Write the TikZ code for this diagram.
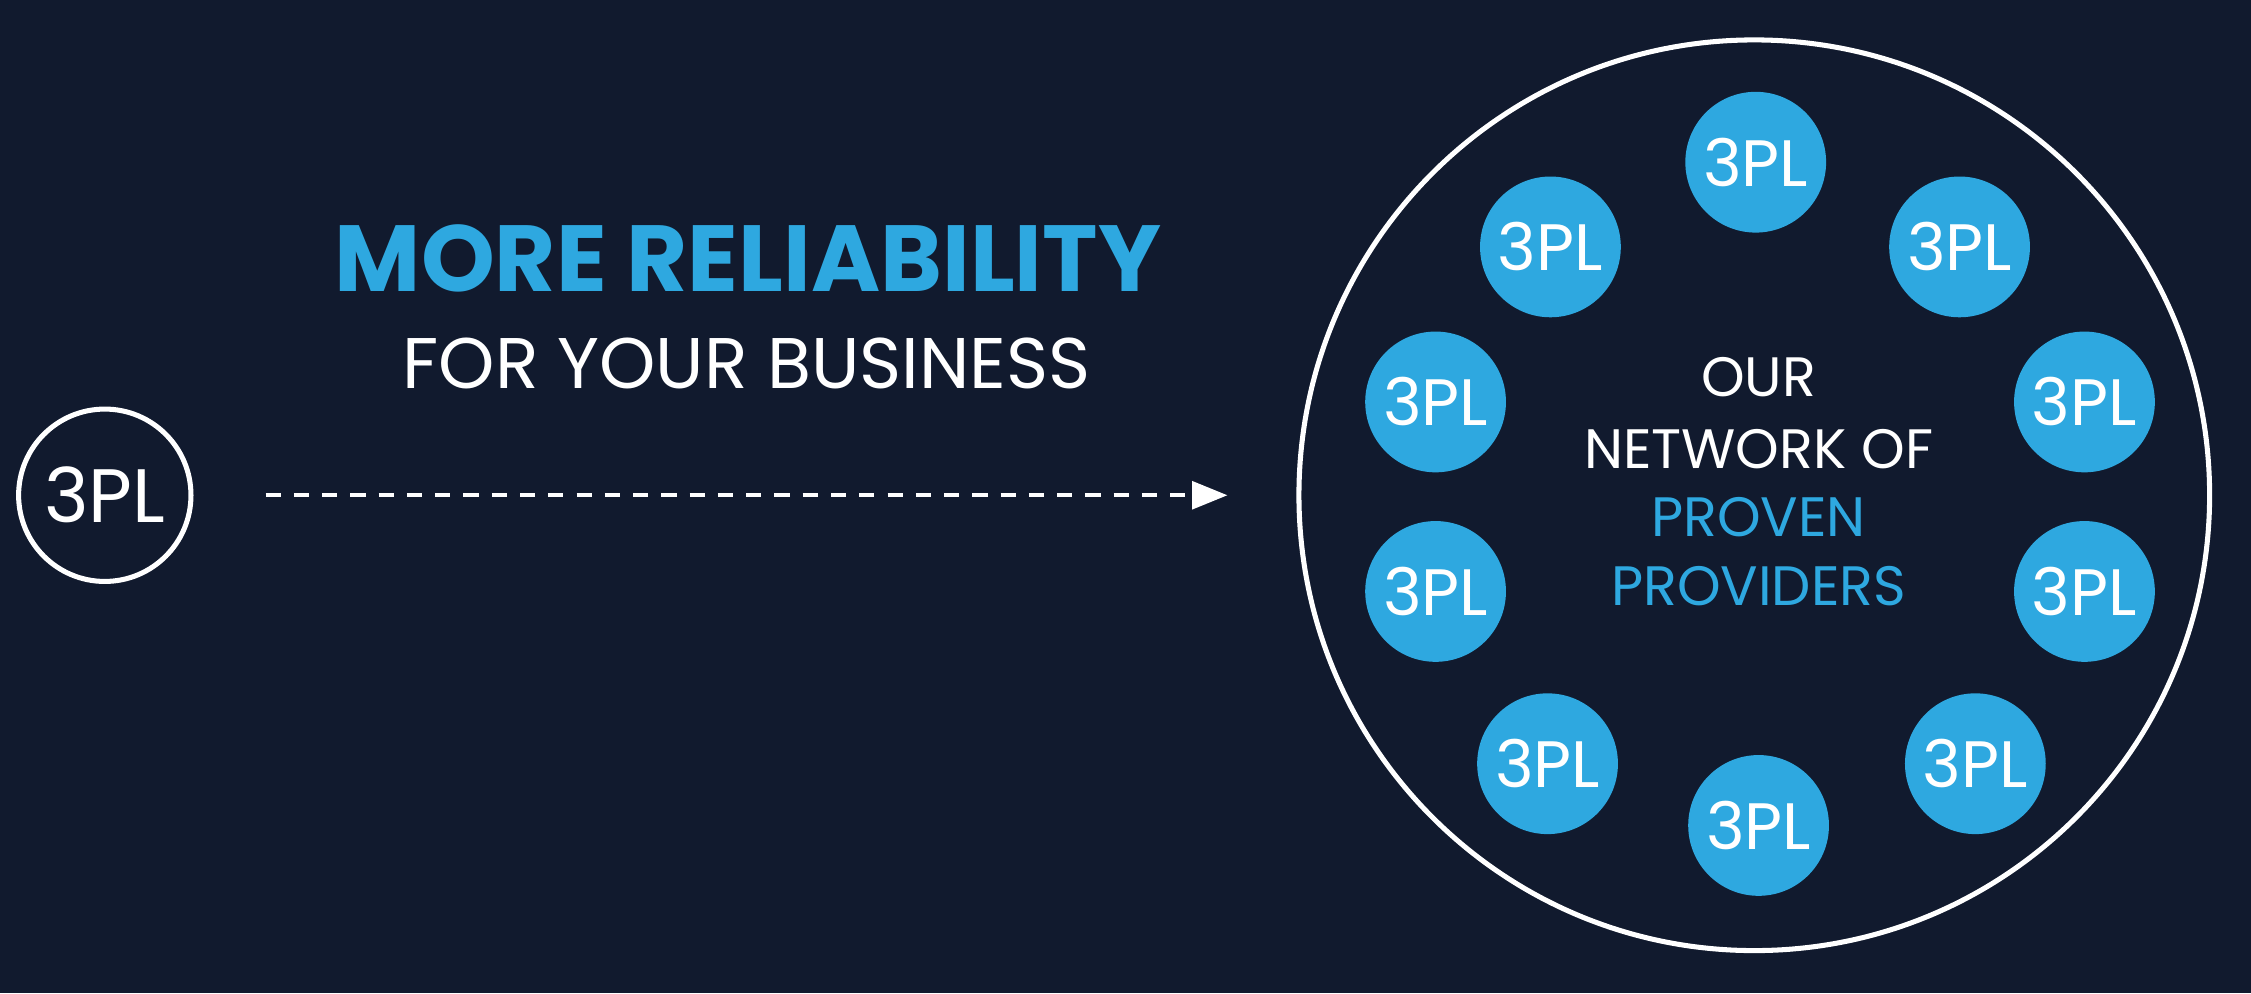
\documentclass[tikz,border=0pt]{standalone}
\usepackage{fontspec}
\setmainfont{Poppins}
\usetikzlibrary{arrows.meta}
\definecolor{bg}{HTML}{111A2E}
\definecolor{blu}{HTML}{2EA8E0}
\begin{document}
\begin{tikzpicture}[x=0.01cm,y=-0.01cm,
  small/.style={circle,fill=blu,minimum size=0.98cm,inner sep=0,text=white,font=\fontsize{13}{13}\selectfont},
  ctext/.style={text=white,font=\fontsize{11}{11}\selectfont,inner sep=0}]
\fill[bg] (0,0) rectangle (1568,692);
\useasboundingbox (0,0) rectangle (1568,692);
\node[circle,draw=white,line width=1pt,minimum size=1.2cm,inner sep=0,text=white,font=\fontsize{15}{15}\selectfont] (src) at (73,345) {3PL};
\coordinate (as) at (185,345);
\coordinate (ae) at (855,345);
\draw[white,line width=0.7pt,dash pattern=on 3pt off 2.6pt,-{Triangle[length=7pt,width=5.5pt]}] (as) -- (ae);
\node[text=blu,font=\bfseries\fontsize{18.6}{18.6}\selectfont] (t1) at (521,180) {MORE RELIABILITY};
\node[text=white,font=\fontsize{14.2}{14.2}\selectfont] (t2) at (520,253) {FOR YOUR BUSINESS};
\node[circle,draw=white,line width=1pt,minimum size=6.34cm,inner sep=0] (big) at (1222,345) {};
\foreach \n/\x/\y in {a/1223/113,b/1080/172,c/1365/172,d/1000/280,e/1452/280,f/1000/412,g/1452/412,h/1078/532,i/1376/532,j/1225/575}
  \node[small] (\n) at (\x,\y) {3PL};
\node[ctext] (o1) at (1225,263) {OUR};
\node[ctext] (o2) at (1225,313) {NETWORK OF};
\node[ctext,text=blu] (o3) at (1225,360) {PROVEN};
\node[ctext,text=blu] (o4) at (1225,408) {PROVIDERS};
\end{tikzpicture}
\end{document}
